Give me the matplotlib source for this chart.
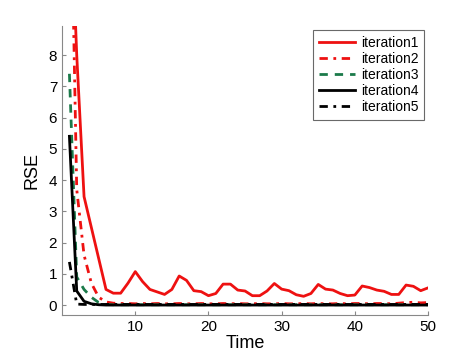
import numpy as np
import matplotlib.pyplot as plt

plt.rcParams['font.family'] = ['Liberation Sans', 'DejaVu Sans']

time = np.arange(1, 51)

iteration1 = [14.0, 8.0, 3.47, 2.48, 1.49, 0.5, 0.38, 0.38, 0.7, 1.07,
              0.75, 0.5, 0.42, 0.34, 0.5, 0.93, 0.79, 0.46, 0.43, 0.3,
              0.37, 0.67, 0.67, 0.48, 0.45, 0.3, 0.3, 0.45, 0.69, 0.51,
              0.46, 0.33, 0.28, 0.37, 0.66, 0.51, 0.48, 0.37, 0.3, 0.32,
              0.61, 0.56, 0.48, 0.44, 0.34, 0.34, 0.64, 0.6, 0.46, 0.55]
iteration2 = [16.0, 3.7, 1.6, 0.7, 0.25, 0.1, 0.06, 0.05, 0.05, 0.04,
              0.05, 0.04, 0.05, 0.04, 0.04, 0.05, 0.04, 0.04, 0.05, 0.04,
              0.04, 0.05, 0.04, 0.05, 0.04, 0.04, 0.05, 0.04, 0.04, 0.05,
              0.04, 0.04, 0.05, 0.04, 0.05, 0.04, 0.04, 0.05, 0.04, 0.05,
              0.05, 0.04, 0.05, 0.05, 0.04, 0.06, 0.08, 0.09, 0.07, 0.08]
iteration3 = [7.4, 0.9, 0.5, 0.25, 0.08, 0.02] + [0.01] * 44
iteration4 = [5.4, 0.45, 0.12, 0.04, 0.01] + [0.0] * 45
iteration5 = [1.38, 0.03] + [0.02] * 48

fig = plt.figure(figsize=(4.74, 3.56), dpi=100)
ax = fig.add_axes([0.131, 0.115, 0.772, 0.812])

ax.plot(time, iteration1, color='#ee1111', lw=2, ls='-', label='iteration1')
ax.plot(time, iteration2, color='#ee1111', lw=2, ls=(0, (3, 2, 1, 2)), label='iteration2')
ax.plot(time, iteration3, color='#1b7a4a', lw=2, ls=(0, (3, 2.5)), label='iteration3')
ax.plot(time, iteration4, color='black', lw=2, ls='-', label='iteration4')
ax.plot(time, iteration5, color='black', lw=2, ls=(0, (3, 2, 1, 2)), label='iteration5')

ax.set_xlim(0, 50)
ax.set_ylim(-0.32, 8.93)
ax.set_xticks([10, 20, 30, 40, 50])
ax.set_yticks(range(0, 9))
ax.tick_params(direction='in', labelsize=11, length=3, color='#888888')
ax.spines['top'].set_visible(False)
ax.spines['right'].set_visible(False)
ax.spines['left'].set_color('#888888')
ax.spines['bottom'].set_color('#888888')

ax.set_xlabel('Time', fontsize=13, labelpad=1)
ax.set_ylabel('RSE', fontsize=13, labelpad=6)

leg = ax.legend(loc='upper right', fontsize=10, handlelength=2.6,
                fancybox=False, borderaxespad=0.3, labelspacing=0.15,
                handletextpad=0.4, borderpad=0.4)
leg.get_frame().set_edgecolor('#444444')
leg.get_frame().set_linewidth(0.8)

plt.savefig('out.png')
